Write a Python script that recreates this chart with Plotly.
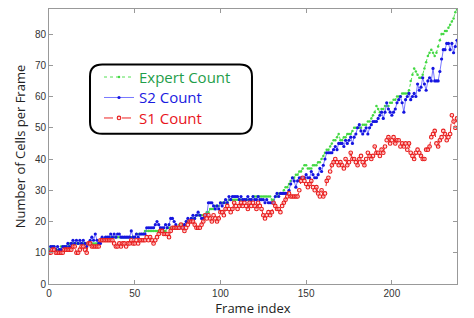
import plotly.graph_objects as go

frames = list(range(239))

expert_count = [
    11,12,12,12,11,11,11,12,12,12,
    12,12,13,13,13,13,13,13,13,13,
    13,13,13,13,13,13,13,13,13,13,
    14,14,14,15,15,15,15,15,15,15,
    15,15,15,15,15,15,15,15,15,15,
    15,16,16,16,16,16,17,17,17,17,
    17,17,17,17,17,17,17,17,17,18,
    18,18,18,18,18,18,19,19,19,19,
    20,20,20,21,21,21,22,22,22,22,
    22,22,23,23,24,24,24,25,25,25,
    26,26,26,26,26,27,27,27,27,27,
    27,27,27,27,27,27,27,27,27,28,
    28,28,28,28,28,28,28,28,28,28,
    27,27,28,28,29,29,29,30,31,31,
    32,33,34,34,35,35,36,36,37,38,
    38,37,37,37,38,38,38,39,39,40,
    41,42,43,43,44,45,46,46,47,48,
    46,46,47,47,48,48,48,49,50,50,
    50,50,50,51,51,51,52,52,53,54,
    55,57,56,55,56,56,57,57,57,58,
    58,59,59,60,60,60,61,61,61,61,
    62,65,67,69,68,67,66,66,67,69,
    71,73,74,75,74,73,74,76,78,80,
    80,81,81,82,83,84,85,87,88,
]

s2_count = [
    10,12,12,12,11,12,11,11,12,12,
    12,13,12,13,14,13,14,13,14,13,
    14,13,12,13,14,15,14,16,14,13,
    13,15,14,15,15,15,16,15,16,15,
    16,16,15,15,15,15,15,15,17,15,
    15,16,15,16,16,16,16,18,18,18,
    18,18,19,20,19,18,18,18,19,18,
    19,21,21,20,19,18,18,18,18,19,
    20,21,20,21,22,21,22,23,22,21,
    21,22,22,26,26,26,25,24,25,24,
    26,25,26,27,26,28,27,28,28,28,
    28,27,28,27,27,27,28,27,27,28,
    27,27,28,27,27,27,26,27,26,26,
    26,26,28,29,28,29,29,29,29,29,
    30,32,34,33,31,33,34,34,34,34,
    35,34,34,36,35,34,34,35,37,36,
    38,40,42,42,42,42,43,44,43,45,
    45,45,44,46,45,46,47,45,47,48,
    50,51,49,48,49,50,48,50,51,52,
    52,52,53,54,55,53,55,58,56,55,
    54,55,56,58,59,60,58,55,59,60,
    61,59,60,61,60,64,62,63,66,64,
    62,65,66,65,69,65,65,65,68,72,
    75,75,77,77,75,77,74,76,78,
]

s1_count = [
    10,10,11,11,10,10,10,10,10,11,
    11,11,11,11,12,12,10,10,11,12,
    12,11,10,13,13,12,12,12,12,12,
    14,14,14,14,14,14,14,14,13,12,
    12,13,12,13,13,12,13,13,14,13,
    13,14,13,14,14,14,14,15,14,15,
    14,13,14,15,16,17,17,16,16,16,
    15,17,18,18,18,18,18,19,18,17,
    18,19,20,20,20,19,18,18,18,19,
    20,22,21,22,21,20,22,21,20,21,
    23,23,22,24,25,24,23,24,26,25,
    24,25,26,25,26,25,24,26,25,26,
    25,24,26,25,24,22,21,22,23,22,
    23,26,25,24,24,23,25,26,27,28,
    29,28,28,28,28,28,30,33,34,33,
    32,31,32,33,31,30,31,29,28,30,
    28,29,33,34,36,38,39,40,39,38,
    39,38,37,40,38,39,42,40,40,39,
    38,40,41,39,38,40,42,41,40,41,
    44,42,42,41,43,42,44,46,47,45,
    46,47,45,46,46,44,45,44,45,43,
    45,42,41,40,42,43,42,41,40,40,
    43,43,44,47,48,49,45,44,46,47,
    49,48,46,47,48,54,52,50,53,
]

x_ticks = [0, 50, 100, 150, 200]
y_ticks = [0, 10, 20, 30, 40, 50, 60, 70, 80]

fig = go.Figure()
fig.add_trace(go.Scatter(
    x=frames, y=expert_count, mode="lines+markers",
    name='<span style="color:#1f9e4a">Expert Count</span>', legend="legend",
    line=dict(color="#55e055", width=1, dash="dot"),
    marker=dict(color="#44d844", size=2.5),
))
fig.add_trace(go.Scatter(
    x=frames, y=s2_count, mode="lines+markers",
    name='<span style="color:#1a1ae0">S2 Count</span>', legend="legend2",
    line=dict(color="#5555ff", width=0.8),
    marker=dict(color="#1515e0", size=3.2),
))
fig.add_trace(go.Scatter(
    x=frames, y=s1_count, mode="lines+markers",
    name='<span style="color:#e8141c">S1 Count</span>', legend="legend3",
    line=dict(color="#ee2222", width=1, dash="dash"),
    marker=dict(color="rgba(255,200,200,0.6)", size=3.6, line=dict(color="#e81c1c", width=1.1)),
))

x0, x1, y0, y1 = 0.1005, 0.4975, 0.546, 0.798
rx, ry = 0.03, 0.043
path = (f"M {x0+rx},{y0} L {x1-rx},{y0} Q {x1},{y0} {x1},{y0+ry} "
        f"L {x1},{y1-ry} Q {x1},{y1} {x1-rx},{y1} L {x0+rx},{y1} "
        f"Q {x0},{y1} {x0},{y1-ry} L {x0},{y0+ry} Q {x0},{y0} {x0+rx},{y0} Z")
fig.add_shape(type="path", path=path, xref="paper", yref="paper",
              line=dict(color="black", width=2), fillcolor="rgba(0,0,0,0)")

axis_common = dict(
    showline=True, linecolor="#999999", linewidth=1, mirror="ticks",
    ticks="inside", ticklen=4, tickcolor="#999999", showgrid=False, zeroline=False,
    tickfont=dict(family="Liberation Sans, Arial", size=10, color="#333333"),
)
fig.update_xaxes(range=[0, 238], tickvals=x_ticks,
                 title=dict(text="Frame index", font=dict(family="Open Sans", size=13, color="#222"), standoff=2),
                 **axis_common)
fig.update_yaxes(range=[0, 88], tickvals=y_ticks,
                 title=dict(text="Number of Cells per Frame", font=dict(family="Open Sans", size=13, color="#222"), standoff=6),
                 **axis_common)

leg_common = dict(xanchor="left", yanchor="middle", bgcolor="rgba(0,0,0,0)", borderwidth=0,
                  font=dict(family="Open Sans", size=15), itemwidth=30)
leg_x = (99 - 49) / 408
fig.update_layout(
    width=474, height=318,
    margin=dict(l=49, r=17, t=8, b=28),
    paper_bgcolor="white", plot_bgcolor="white",
    showlegend=True,
    legend=dict(x=leg_x, y=(290 - 78) / 282, **leg_common),
    legend2=dict(x=leg_x, y=(290 - 99) / 282, **leg_common),
    legend3=dict(x=leg_x, y=(290 - 120) / 282, **leg_common),
)

fig.write_html("out.html")
